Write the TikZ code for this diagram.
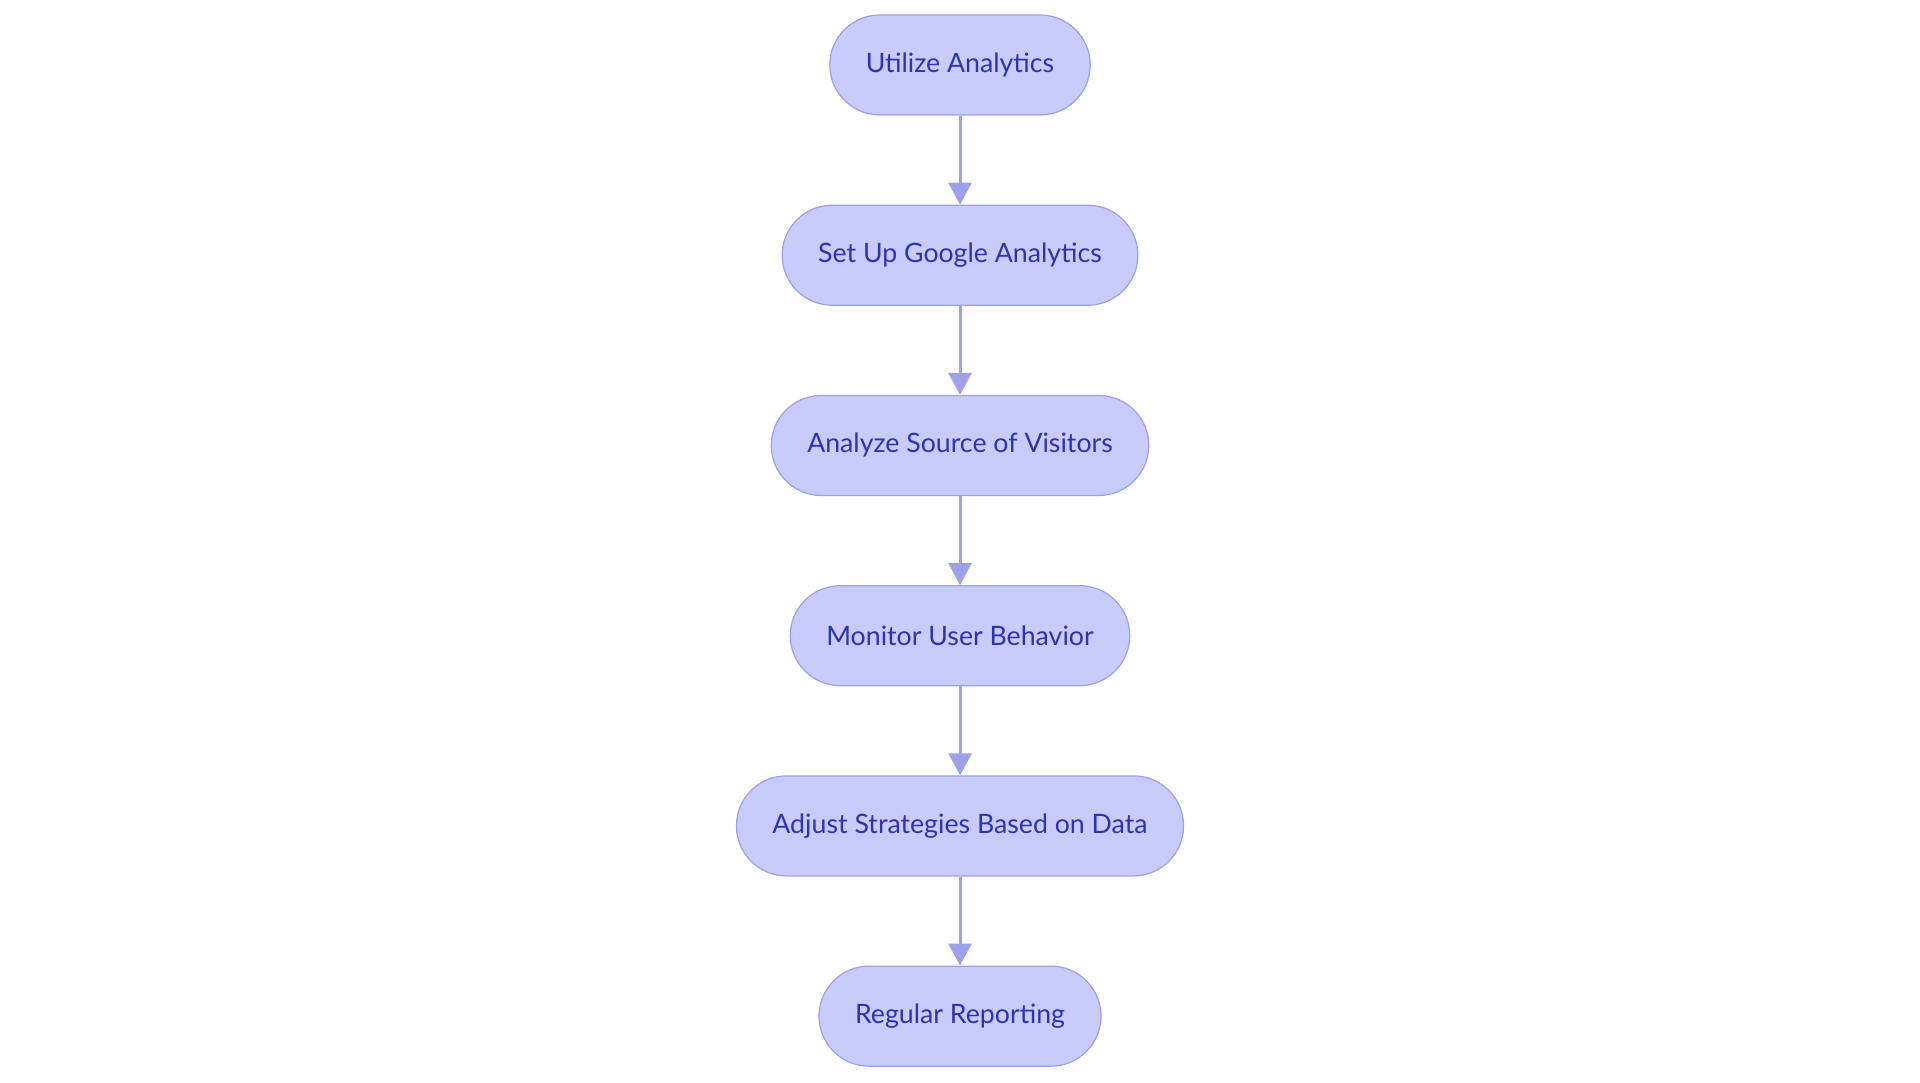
\documentclass[tikz,border=0pt]{standalone}
\usepackage{fontspec}
\setmainfont{Lato}
\usepackage{xcolor}
\usepackage{tikz}
\usetikzlibrary{arrows.meta,positioning}
\definecolor{stepfill}{HTML}{C8CCFD}
\definecolor{stepline}{HTML}{9DA1EA}
\definecolor{steptext}{HTML}{2E32B4}
\definecolor{flowline}{HTML}{9DA1EA}
\tikzstyle{stepbox} = [draw=stepline, line width=0.35pt, fill=stepfill, rounded corners=0.5cm, minimum height=1cm, inner xsep=0.36cm, text=steptext, font=\fontsize{7.6}{9}\selectfont]
\tikzstyle{arrow} = [-{Triangle[length=0.22cm, width=0.23cm]}, line width=0.85pt, flowline]

\begin{document}
\begin{tikzpicture}
\useasboundingbox (0,0) rectangle (19.2,10.83);
\node[stepbox] (analytics) at (9.6,10.18) {Utilize Analytics};
\node[stepbox, below=0.89cm of analytics] (setup) {Set Up Google Analytics};
\node[stepbox, below=0.89cm of setup] (source) {Analyze Source of Visitors};
\node[stepbox, below=0.89cm of source] (behavior) {Monitor User Behavior};
\node[stepbox, below=0.89cm of behavior] (adjust) {Adjust Strategies Based on Data};
\node[stepbox, below=0.89cm of adjust] (reporting) {Regular Reporting};

\draw[arrow] (analytics) -- (setup);
\draw[arrow] (setup) -- (source);
\draw[arrow] (source) -- (behavior);
\draw[arrow] (behavior) -- (adjust);
\draw[arrow] (adjust) -- (reporting);
\end{tikzpicture}
\end{document}
